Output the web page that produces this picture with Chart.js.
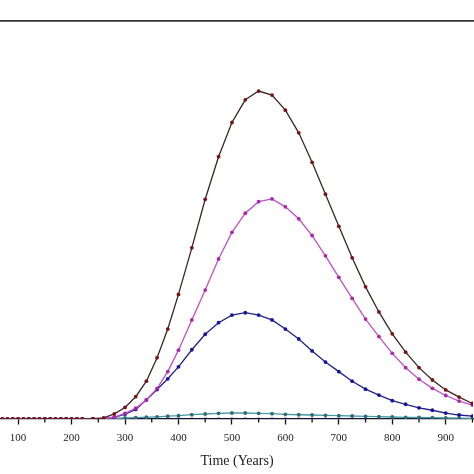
<!DOCTYPE html>
<html>
<head>
<meta charset="utf-8">
<script src="https://cdn.jsdelivr.net/npm/chart.js@4.4.1/dist/chart.umd.min.js"></script>
<style>
  html, body { margin: 0; padding: 0; background: #ffffff; overflow: hidden; }
  #wrap { width: 474px; height: 474px; position: relative; overflow: hidden; }
  #c { position: absolute; left: -3px; top: 0; }
</style>
</head>
<body>
<div id="wrap"><canvas id="c" width="480" height="474"></canvas></div>
<script>
// Time points (years)
const years = [60,70,80,90,100,110,120,130,140,150,160,170,180,190,200,210,220,
  240,260,280,300,320,340,360,380,400,
  425,450,475,500,525,550,575,600,625,650,675,700,725,750,775,800,825,850,875,900,925,950,975];

const zeros17 = [0,0,0,0,0,0,0,0,0,0,0,0,0,0,0,0,0];

const seriesBrown = zeros17.concat([0.1,0.3,1.3,2.9,5.6,9.5,15.4,22.6,31.3,
  43.0,55.2,65.9,74.5,80.2,82.4,81.4,77.6,71.9,64.5,56.5,48.4,40.5,33.2,26.9,21.4,16.8,12.9,9.8,7.3,5.5,3.9,2.8]);

const seriesMagenta = zeros17.concat([0.0,0.1,0.5,1.4,2.7,4.8,7.7,11.9,17.3,
  24.9,32.4,40.2,46.9,51.7,54.6,55.3,53.3,50.3,46.1,41.0,35.6,30.3,25.1,20.7,16.5,12.9,10.0,7.7,5.9,4.5,3.5,2.7]);

const seriesNavy = zeros17.concat([0.0,0.1,0.4,1.2,2.4,4.8,7.4,10.1,13.1,
  17.4,21.3,24.2,26.1,26.7,26.1,24.9,22.6,20.1,17.1,14.3,11.9,9.5,7.5,6.0,4.6,3.7,2.8,2.2,1.5,1.0,0.7,0.5]);

const seriesTeal = zeros17.concat([0.0,0.05,0.15,0.25,0.35,0.45,0.55,0.7,0.83,
  1.08,1.26,1.43,1.51,1.51,1.43,1.33,1.18,1.07,1.0,0.93,0.83,0.75,0.68,0.58,0.5,0.43,0.38,0.33,0.25,0.22,0.18,0.15]);

const seriesBlack = zeros17.concat([0,0,0,0,0,0,0,0,0,
  0,0,0,0,0,0,0,0,0,0,0,0,0,0,0,0,0,0,0,0,0,0,0]);

const xTickValues = [100,200,300,400,500,600,700,800,900];
const xMinorValues = [150,250,350,450,550,650,750,850,950];
const xTitle = 'Time (Years)';

function toPoints(vals) { return years.map((t, i) => ({ x: t, y: vals[i] })); }

function ds(label, vals, line, marker, style) {
  return {
    label: label,
    data: toPoints(vals),
    borderColor: line,
    borderWidth: 1.3,
    pointBackgroundColor: marker,
    pointBorderColor: marker,
    pointBorderWidth: 0,
    pointRadius: 1.9,
    pointStyle: style || 'circle',
    tension: 0,
    fill: false
  };
}

const minorTicks = {
  id: 'minorTicks',
  afterDatasetsDraw(chart) {
    const sx = chart.scales.x;
    const ctx = chart.ctx;
    const yb = chart.chartArea.bottom;
    ctx.save();
    ctx.strokeStyle = '#111';
    ctx.lineWidth = 1.3;
    xMinorValues.forEach(v => {
      const px = sx.getPixelForValue(v);
      if (px < chart.chartArea.left || px > chart.chartArea.right) return;
      ctx.beginPath();
      ctx.moveTo(px, yb);
      ctx.lineTo(px, yb + 3.5);
      ctx.stroke();
    });
    ctx.restore();
  }
};

function noPad(scale) { scale.paddingLeft = 0; scale.paddingRight = 0; scale.paddingTop = 0; scale.paddingBottom = 0; }

new Chart(document.getElementById('c'), {
  type: 'line',
  data: {
    datasets: [
      ds('S1', seriesBrown, '#3e2424', '#7a1414'),
      ds('S2', seriesMagenta, '#c24fc8', '#a828a8'),
      ds('S3', seriesNavy, '#232383', '#1414a0'),
      ds('S4', seriesTeal, '#4c9a9c', '#2c6e7e'),
      ds('S5', seriesBlack, '#15153a', '#101050', 'rect')
    ]
  },
  options: {
    responsive: false,
    animation: false,
    devicePixelRatio: 1,
    layout: { padding: { top: 21, left: 0, right: 0, bottom: 0 } },
    plugins: { legend: { display: false }, tooltip: { enabled: false } },
    scales: {
      x: {
        type: 'linear',
        position: 'bottom',
        min: 68,
        max: 951,
        afterFit: (scale) => { scale.height = 55; noPad(scale); },
        afterBuildTicks: (scale) => { scale.ticks = xTickValues.map(v => ({ value: v })); },
        ticks: {
          includeBounds: false,
          autoSkip: false,
          maxRotation: 0,
          padding: 7,
          color: '#222',
          font: { family: '"Liberation Serif", "Times New Roman", serif', size: 11 },
          callback: (v) => String(v)
        },
        grid: { drawOnChartArea: false, drawTicks: true, tickLength: 5.5, tickColor: '#111', tickWidth: 1.3 },
        border: { display: true, color: '#111', width: 1.3 },
        title: {
          display: true,
          text: xTitle,
          color: '#222',
          font: { family: '"Liberation Serif", "Times New Roman", serif', size: 14 },
          padding: { top: 0, bottom: 4 }
        }
      },
      xTop: {
        type: 'linear',
        position: 'top',
        display: true,
        min: 0, max: 1,
        afterFit: (scale) => { scale.height = 0; noPad(scale); },
        ticks: { display: false },
        grid: { display: false, drawTicks: false, drawOnChartArea: false },
        border: { display: true, color: '#333', width: 1.7 }
      },
      y: {
        display: false,
        min: 0,
        max: 100
      }
    }
  },
  plugins: [minorTicks]
});
</script>
</body>
</html>
